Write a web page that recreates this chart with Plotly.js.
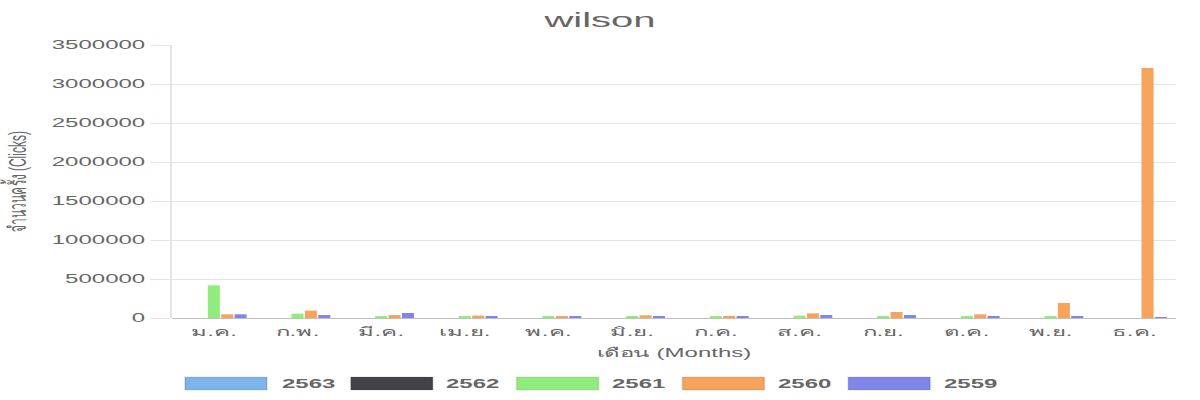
<!DOCTYPE html>
<html>
<head>
<meta charset="utf-8">
<script src="https://cdn.plot.ly/plotly-3.0.1.min.js"></script>
<style>
  html, body { margin: 0; padding: 0; background: #fff; }
  #wrap { width: 1200px; height: 400px; overflow: hidden; }
  #chart { width: 600px; height: 400px; transform: scaleX(2); transform-origin: 0 0; }
</style>
</head>
<body>
<div id="wrap"><div id="chart"></div></div>
<script>
// ---- data ----
const chartTitle = "wilson";
const xTitle = "เดือน (Months)";
const yTitle = "จำนวนครั้ง (Clicks)";
const months = ["ม.ค.", "ก.พ.", "มี.ค.", "เม.ย.", "พ.ค.", "มิ.ย.", "ก.ค.", "ส.ค.", "ก.ย.", "ต.ค.", "พ.ย.", "ธ.ค."];
const seriesNames = ["2563", "2562", "2561", "2560", "2559"];
const values2563 = [0, 0, 0, 0, 0, 0, 0, 0, 0, 0, 0, 0];
const values2562 = [0, 0, 0, 0, 0, 0, 0, 0, 0, 0, 0, 0];
const values2561 = [419000, 56000, 18000, 22000, 22000, 22000, 22000, 30000, 28000, 20000, 20000, 0];
const values2560 = [47000, 95000, 38000, 31000, 22000, 35000, 28000, 60000, 77000, 47000, 193000, 3205000];
const values2559 = [47000, 38000, 64000, 26000, 22000, 22000, 22000, 38000, 38000, 24000, 22000, 8000];
const seriesColors = ["#7cb5ec", "#434348", "#90ed7d", "#f7a35c", "#8085e9"];

const seriesValues = [values2563, values2562, values2561, values2560, values2559];

const FONT = "Liberation Sans, Arial, Helvetica, sans-serif";
const GREY = "#666";

const traces = seriesNames.map((name, i) => ({
  type: "bar",
  name: name,
  x: months,
  y: seriesValues[i],
  marker: { color: seriesColors[i], line: { width: 0 } },
  hoverinfo: "x+y+name"
}));

// custom wide legend boxes (Chart.js style), built from the series arrays
const ML = 86, MR = 12, MT = 45, MB = 82, W = 600, H = 400;
const PW = W - ML - MR, PH = H - MT - MB;
const px2x = px => (px - ML) / PW;
const py2y = py => (H - MB - py) / PH;
const legStart = 92.5, legStep = 82.9, boxW = 41, boxTop = 377, boxBot = 390, textGap = 46;

const shapes = [];
const annotations = [];
seriesNames.forEach((name, i) => {
  const x0 = legStart + i * legStep;
  shapes.push({
    type: "rect", xref: "paper", yref: "paper",
    x0: px2x(x0), x1: px2x(x0 + boxW), y0: py2y(boxBot), y1: py2y(boxTop),
    fillcolor: seriesColors[i], line: { color: "rgba(0,0,0,0.1)", width: 1 }, layer: "above"
  });
  annotations.push({
    xref: "paper", yref: "paper", x: px2x(x0 + textGap), y: py2y((boxTop + boxBot) / 2),
    xanchor: "left", yanchor: "middle", showarrow: false, text: "<b>" + name + "</b>",
    font: { family: FONT, size: 12, color: GREY }
  });
});

const layout = {
  width: W, height: H,
  margin: { l: ML, r: MR, t: MT, b: MB, pad: 0 },
  paper_bgcolor: "#fff", plot_bgcolor: "#fff",
  font: { family: FONT, size: 12, color: GREY },
  title: { text: chartTitle, font: { family: FONT, size: 20, color: GREY }, x: 0.5, xref: "container", y: 0.95, yref: "container", yanchor: "middle" },
  showlegend: false,
  barmode: "group", bargap: 0.2, bargroupgap: 0.1,
  xaxis: {
    type: "category", automargin: false,
    showgrid: false, zeroline: false, showline: false, ticks: "",
    ticklabelstandoff: 5,
    tickfont: { family: FONT, size: 12, color: GREY },
    title: { text: xTitle, font: { family: FONT, size: 12, color: GREY }, standoff: 10 }
  },
  yaxis: {
    range: [0, 3500000], dtick: 500000, tick0: 0, tickformat: "d", automargin: false,
    showgrid: true, gridcolor: "rgba(0,0,0,0.1)", gridwidth: 1,
    zeroline: true, zerolinecolor: "rgba(0,0,0,0.25)", zerolinewidth: 1,
    showline: true, linecolor: "rgba(0,0,0,0.1)", linewidth: 1,
    ticks: "outside", ticklen: 10, tickcolor: "rgba(0,0,0,0.1)", tickwidth: 1,
    tickfont: { family: FONT, size: 12, color: GREY },
    title: { text: yTitle, font: { family: FONT, size: 12, color: GREY }, standoff: 10 }
  },
  shapes: shapes,
  annotations: annotations
};

Plotly.newPlot("chart", traces, layout, { displayModeBar: false, responsive: false });
</script>
</body>
</html>
